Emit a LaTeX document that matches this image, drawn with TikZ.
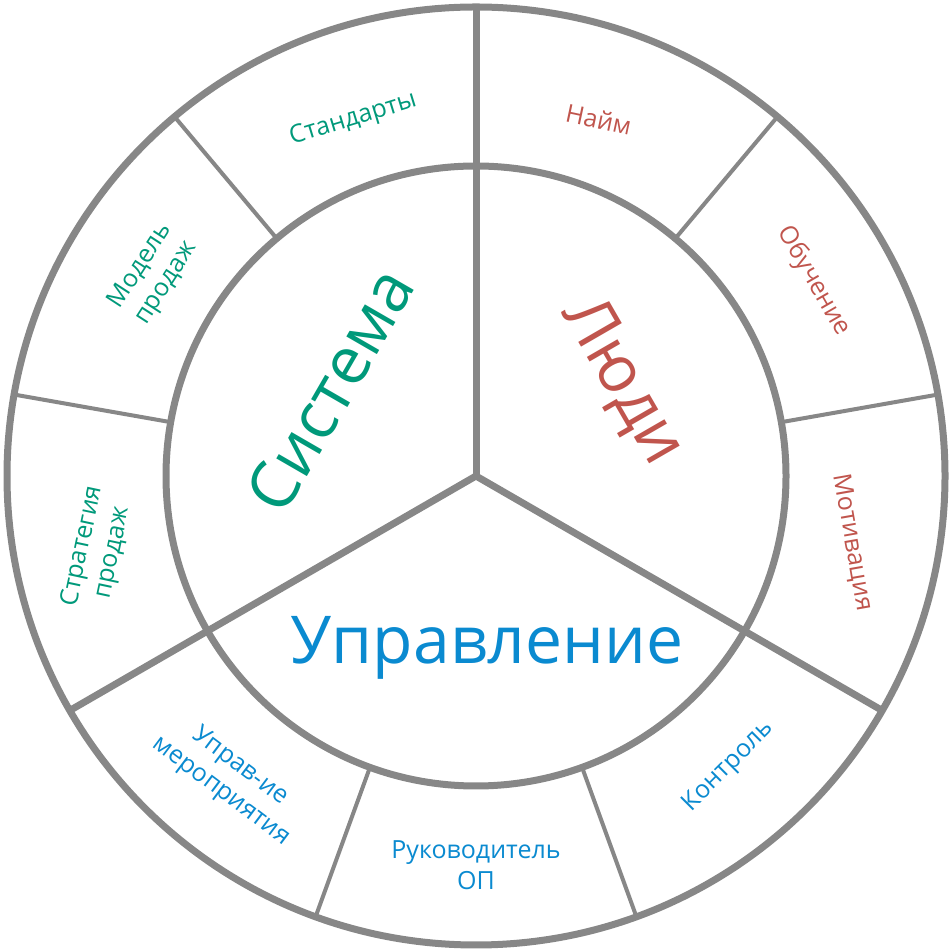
\documentclass[tikz,border=0pt]{standalone}
\usepackage{fontspec}
\setmainfont{Open Sans}
\usetikzlibrary{calc}
\definecolor{gr}{HTML}{878787}
\definecolor{cg}{HTML}{00997A}
\definecolor{cr}{HTML}{C0554D}
\definecolor{cb}{HTML}{0A8AD0}
\begin{document}
\begin{tikzpicture}[x=1pt,y=1pt,
  thickl/.style={draw=gr,line width=7pt},
  thinl/.style={draw=gr,line width=4pt},
  lab/.style={font=\fontsize{25}{31}\selectfont,align=center,inner sep=0pt},
  big/.style={font=\fontsize{66}{70}\selectfont,inner sep=0pt}]
\useasboundingbox (0,0) rectangle (952,952);
\coordinate (c) at (476,476);
\draw[thickl] (c) circle (469);
\draw[thickl] (c) circle (310);
\foreach \a in {90,210,330} \draw[thickl] (c) -- ++(\a:469);
\foreach \a in {130,170,250,290,50,10} \draw[thinl] ($(c)+(\a:310)$) -- ($(c)+(\a:469)$);
\node[lab,text=cg,rotate=17] (s1) at ($(c)+(109:377)$) {Стандарты};
\node[lab,text=cg,rotate=57] (s2) at ($(c)+(148:380)$) {Модель\\продаж};
\node[lab,text=cg,rotate=78] (s3) at ($(c)+(191:385)$) {Стратегия\\продаж};
\node[lab,text=cr,rotate=-12] (p1) at ($(c)+(71:377)$) {Найм};
\node[lab,text=cr,rotate=-60] (p2) at ($(c)+(30:390)$) {Обучение};
\node[lab,text=cr,rotate=-80] (p3) at ($(c)+(350:382)$) {Мотивация};
\node[lab,text=cb,rotate=-37] (u1) at ($(c)+(231:390)$) {Управ-ие\\мероприятия};
\node[lab,text=cb] (u2) at ($(c)+(270:389)$) {Руководитель\\ОП};
\node[lab,text=cb,rotate=45] (u3) at ($(c)+(311:385)$) {Контроль};
\node[big,text=cg,rotate=60] (sys) at (330,562) {Система};
\node[big,text=cr,rotate=-60] (ppl) at (622,570) {Люди};
\node[big,text=cb] (upr) at (487,304) {Управление};
\end{tikzpicture}
\end{document}
